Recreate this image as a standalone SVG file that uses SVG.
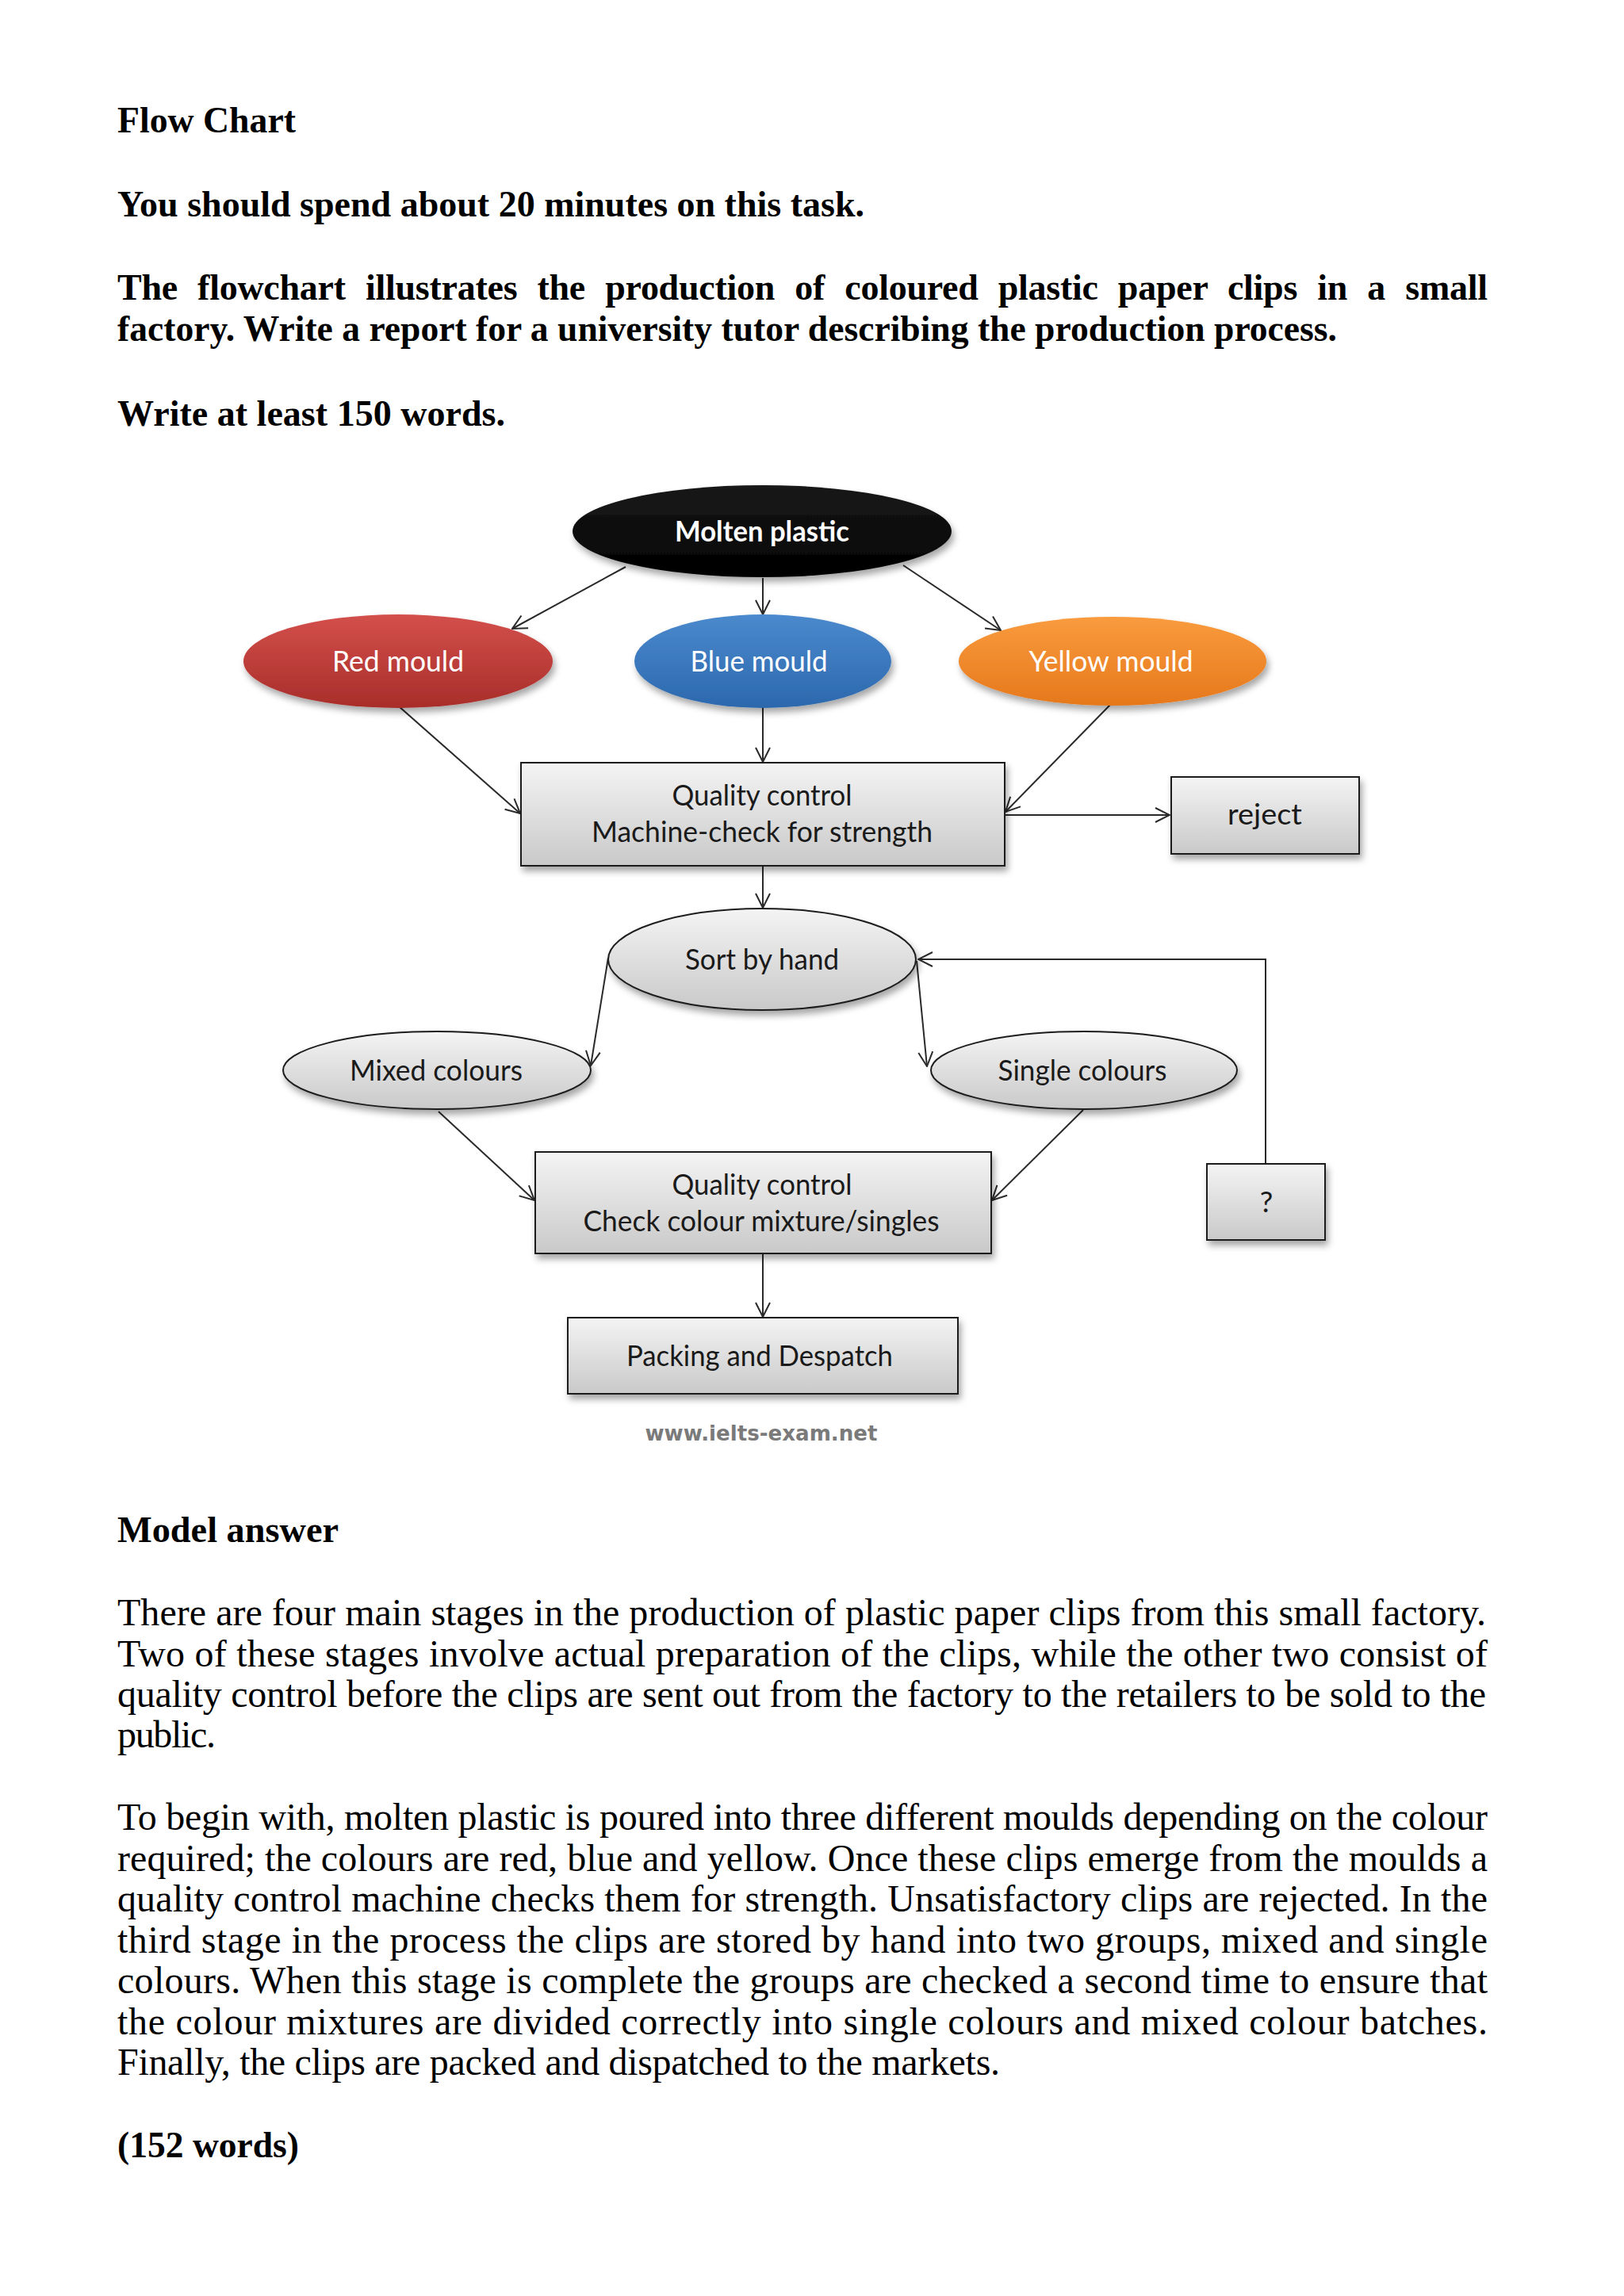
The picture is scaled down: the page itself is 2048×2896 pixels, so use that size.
<svg xmlns="http://www.w3.org/2000/svg" width="2048" height="2896" viewBox="0 0 2048 2896">
<style>
.h{font-family:"Liberation Serif","Times New Roman",serif;font-weight:bold;font-size:46px;fill:#000}
.p{font-family:"Liberation Serif","Times New Roman",serif;font-size:48px;fill:#000}
.lbl{font-family:Lato,"Open Sans","Liberation Sans",sans-serif;font-size:37px;fill:#1a1a1a;text-anchor:middle}
.wl{fill:#fff}
.box{fill:url(#gGray);stroke:#1e1e1e;stroke-width:2}
.conn{fill:none;stroke:#2a2a2a;stroke-width:2}
</style>
<defs>
<linearGradient id="gGray" x1="0" y1="0" x2="0" y2="1"><stop offset="0" stop-color="#f4f4f4"/><stop offset="1" stop-color="#c9c9c9"/></linearGradient>
<linearGradient id="gRed" x1="0" y1="0" x2="0" y2="1"><stop offset="0" stop-color="#d3504c"/><stop offset="1" stop-color="#a82d2a"/></linearGradient>
<linearGradient id="gBlue" x1="0" y1="0" x2="0" y2="1"><stop offset="0" stop-color="#4b89cd"/><stop offset="1" stop-color="#2c68ad"/></linearGradient>
<linearGradient id="gYel" x1="0" y1="0" x2="0" y2="1"><stop offset="0" stop-color="#f99b3e"/><stop offset="1" stop-color="#e6781c"/></linearGradient>
<linearGradient id="gBlk" x1="0" y1="0" x2="0" y2="1"><stop offset="0" stop-color="#1a1a1a"/><stop offset="1" stop-color="#000"/></linearGradient>
<filter id="sh" x="-20%" y="-20%" width="150%" height="160%"><feDropShadow dx="3" dy="6" stdDeviation="4" flood-color="#000" flood-opacity="0.35"/></filter>
<marker id="arr" viewBox="0 0 20 20" refX="19" refY="10" markerWidth="20" markerHeight="20" markerUnits="userSpaceOnUse" orient="auto"><path d="M1,1 L19,10 L1,19" fill="none" stroke="#2a2a2a" stroke-width="2"/></marker>
</defs>
<rect width="2048" height="2896" fill="#fff"/>

<g id="header">
<text class="h" x="148" y="167" textLength="225" lengthAdjust="spacingAndGlyphs">Flow Chart</text>
<text class="h" x="148" y="273" textLength="942" lengthAdjust="spacingAndGlyphs">You should spend about 20 minutes on this task.</text>
<text class="h" x="148" y="378" textLength="1728" lengthAdjust="spacing" word-spacing="14">The flowchart illustrates the production of coloured plastic paper clips in a small</text>
<text class="h" x="148" y="430" textLength="1538" lengthAdjust="spacingAndGlyphs">factory. Write a report for a university tutor describing the production process.</text>
<text class="h" x="148" y="537" textLength="489" lengthAdjust="spacingAndGlyphs">Write at least 150 words.</text>
</g>

<g id="connectors">
<path class="conn" marker-end="url(#arr)" d="M789,715 L646,793"/>
<path class="conn" marker-end="url(#arr)" d="M962,729 L962,775"/>
<path class="conn" marker-end="url(#arr)" d="M1139,713 L1262,795"/>
<path class="conn" marker-end="url(#arr)" d="M503,891 L656,1026"/>
<path class="conn" marker-end="url(#arr)" d="M962,893 L962,961"/>
<path class="conn" marker-end="url(#arr)" d="M1400,889 L1268,1024"/>
<path class="conn" marker-end="url(#arr)" d="M1267,1028 L1475,1028"/>
<path class="conn" marker-end="url(#arr)" d="M962,1092 L962,1145"/>
<path class="conn" marker-end="url(#arr)" d="M767,1208 L745,1344"/>
<path class="conn" marker-end="url(#arr)" d="M1156,1212 L1169,1345"/>
<path class="conn" marker-end="url(#arr)" d="M553,1402 L674,1514"/>
<path class="conn" marker-end="url(#arr)" d="M1366,1400 L1251,1514"/>
<path class="conn" marker-end="url(#arr)" d="M962,1581 L962,1661"/>
<path class="conn" marker-end="url(#arr)" d="M1596,1468 L1596,1210 L1158,1210"/>
</g>

<g id="molten">
<ellipse cx="961" cy="670" rx="239" ry="58" fill="url(#gBlk)" filter="url(#sh)"/>
<text class="lbl wl" x="961" y="683" font-weight="bold" font-size="39" textLength="220" lengthAdjust="spacingAndGlyphs">Molten plastic</text>
</g>
<g id="red">
<ellipse cx="502" cy="834" rx="195" ry="59" fill="url(#gRed)" filter="url(#sh)"/>
<text class="lbl wl" x="502" y="847" textLength="166" lengthAdjust="spacingAndGlyphs">Red mould</text>
</g>
<g id="blue">
<ellipse cx="962" cy="834" rx="162" ry="59" fill="url(#gBlue)" filter="url(#sh)"/>
<text class="lbl wl" x="957" y="847" textLength="173" lengthAdjust="spacingAndGlyphs">Blue mould</text>
</g>
<g id="yellow">
<ellipse cx="1403" cy="834" rx="194" ry="56" fill="url(#gYel)" filter="url(#sh)"/>
<text class="lbl wl" x="1401" y="847" textLength="207" lengthAdjust="spacingAndGlyphs">Yellow mould</text>
</g>
<g id="qc1">
<rect class="box" x="657" y="962" width="610" height="130" filter="url(#sh)"/>
<text class="lbl" x="961" y="1016" textLength="227" lengthAdjust="spacingAndGlyphs">Quality control</text>
<text class="lbl" x="961" y="1062" textLength="430" lengthAdjust="spacingAndGlyphs">Machine-check for strength</text>
</g>
<g id="reject">
<rect class="box" x="1477" y="980" width="237" height="97" filter="url(#sh)"/>
<text class="lbl" x="1595" y="1040" textLength="94" lengthAdjust="spacingAndGlyphs">reject</text>
</g>
<g id="sort">
<ellipse class="box" cx="961" cy="1210" rx="194" ry="64" filter="url(#sh)"/>
<text class="lbl" x="961" y="1223" textLength="194" lengthAdjust="spacingAndGlyphs">Sort by hand</text>
</g>
<g id="mixed">
<ellipse class="box" cx="551" cy="1350" rx="194" ry="49" filter="url(#sh)"/>
<text class="lbl" x="550" y="1363" textLength="218" lengthAdjust="spacingAndGlyphs">Mixed colours</text>
</g>
<g id="single">
<ellipse class="box" cx="1367" cy="1350" rx="193" ry="49" filter="url(#sh)"/>
<text class="lbl" x="1365" y="1363" textLength="213" lengthAdjust="spacingAndGlyphs">Single colours</text>
</g>
<g id="qc2">
<rect class="box" x="675" y="1453" width="575" height="128" filter="url(#sh)"/>
<text class="lbl" x="961" y="1507" textLength="227" lengthAdjust="spacingAndGlyphs">Quality control</text>
<text class="lbl" x="960" y="1553" textLength="449" lengthAdjust="spacingAndGlyphs">Check colour mixture/singles</text>
</g>
<g id="question">
<rect class="box" x="1522" y="1468" width="149" height="96" filter="url(#sh)"/>
<text class="lbl" x="1597" y="1529">?</text>
</g>
<g id="packing">
<rect class="box" x="716" y="1662" width="492" height="96" filter="url(#sh)"/>
<text class="lbl" x="958" y="1723" textLength="336" lengthAdjust="spacingAndGlyphs">Packing and Despatch</text>
</g>
<text x="960" y="1817" font-family="'DejaVu Sans',Verdana,sans-serif" font-weight="bold" font-size="26" fill="#7a7a7a" text-anchor="middle" textLength="293" lengthAdjust="spacingAndGlyphs">www.ielts-exam.net</text>

<g id="answer">
<text class="h" x="148" y="1945" textLength="279" lengthAdjust="spacingAndGlyphs">Model answer</text>
<text class="p" x="148" y="2050" textLength="1726" lengthAdjust="spacing">There are four main stages in the production of plastic paper clips from this small factory.</text>
<text class="p" x="148" y="2102" textLength="1728" lengthAdjust="spacing">Two of these stages involve actual preparation of the clips, while the other two consist of</text>
<text class="p" x="148" y="2153" textLength="1726" lengthAdjust="spacing">quality control before the clips are sent out from the factory to the retailers to be sold to the</text>
<text class="p" x="148" y="2204" textLength="124" lengthAdjust="spacing">public.</text>
<text class="p" x="148" y="2308" textLength="1728" lengthAdjust="spacing">To begin with, molten plastic is poured into three different moulds depending on the colour</text>
<text class="p" x="148" y="2360" textLength="1728" lengthAdjust="spacing">required; the colours are red, blue and yellow. Once these clips emerge from the moulds a</text>
<text class="p" x="148" y="2411" textLength="1728" lengthAdjust="spacing">quality control machine checks them for strength. Unsatisfactory clips are rejected. In the</text>
<text class="p" x="148" y="2463" textLength="1728" lengthAdjust="spacing">third stage in the process the clips are stored by hand into two groups, mixed and single</text>
<text class="p" x="148" y="2514" textLength="1728" lengthAdjust="spacing">colours. When this stage is complete the groups are checked a second time to ensure that</text>
<text class="p" x="148" y="2566" textLength="1728" lengthAdjust="spacing">the colour mixtures are divided correctly into single colours and mixed colour batches.</text>
<text class="p" x="148" y="2617" textLength="1113" lengthAdjust="spacing">Finally, the clips are packed and dispatched to the markets.</text>
<text class="h" x="148" y="2721" textLength="229" lengthAdjust="spacingAndGlyphs">(152 words)</text>
</g>
</svg>
